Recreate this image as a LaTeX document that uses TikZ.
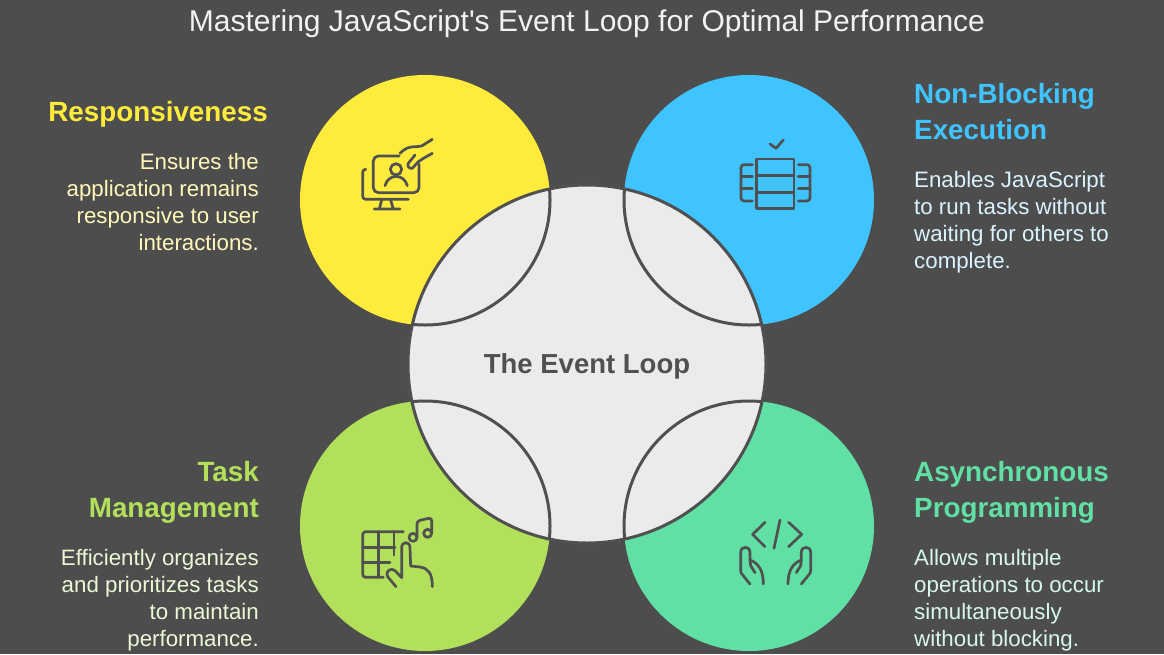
\documentclass[tikz,border=0pt]{standalone}
\usepackage{fontspec}
\setmainfont{Liberation Sans}
\definecolor{bgdark}{HTML}{4D4D4D}
\definecolor{lensgray}{HTML}{EBEBEB}
\definecolor{inkgray}{HTML}{505050}
\definecolor{respyellow}{HTML}{FFEB3B}
\definecolor{blockblue}{HTML}{40C4FF}
\definecolor{tasklime}{HTML}{B2E05A}
\definecolor{asyncgreen}{HTML}{60E0A5}
\tikzset{
  heading/.style={font=\bfseries\fontsize{27.8}{36}\selectfont,inner sep=0pt},
  bodytext/.style={font=\fontsize{22.3}{27}\selectfont,inner sep=0pt},
  icon/.style={line width=2.7pt,inkgray,line cap=round,line join=round,rounded corners=3pt},
  iconzoom/.style={shift={#1},x=0.3333pt,y=-0.3333pt}
}
\begin{document}
\begin{tikzpicture}[x=1pt,y=-1pt]
  \useasboundingbox (0,0) rectangle (1164,654);
  \fill[bgdark] (0,0) rectangle (1164,654);
  % four outer discs
  \fill[respyellow] (425,200) circle (125);
  \fill[blockblue] (749,200) circle (125);
  \fill[tasklime] (425,526) circle (125);
  \fill[asyncgreen] (749,526) circle (125);
  % centre disc with the lens lines
  \fill[lensgray] (587,364) circle (179);
  \begin{scope}
    \clip (587,364) circle (179);
    \draw[line width=3pt,inkgray] (425,200) circle (125);
    \draw[line width=3pt,inkgray] (749,200) circle (125);
    \draw[line width=3pt,inkgray] (425,526) circle (125);
    \draw[line width=3pt,inkgray] (749,526) circle (125);
  \end{scope}
  \draw[line width=3pt,inkgray] (587,364) circle (179);
  % texts
  \node[font=\fontsize{30}{34}\selectfont,text=white!95!black,inner sep=0pt] (title) at (587,24) {Mastering JavaScript\textquotesingle s Event Loop for Optimal Performance};
  \node[font=\bfseries\fontsize{27.5}{34}\selectfont,text=inkgray,inner sep=0pt] (centre) at (587,366) {The Event Loop};
  \node[heading,text=respyellow,anchor=east] (resphead) at (268,114) {Responsiveness};
  \node[bodytext,text=respyellow!35!white,anchor=north east,align=right] (respbody) at (259,153) {Ensures the\\application remains\\responsive to user\\interactions.};
  \node[heading,text=blockblue,anchor=north west,align=left] (blockhead) at (914,83) {Non-Blocking\\Execution};
  \node[bodytext,text=blockblue!20!white,anchor=north west,align=left] (blockbody) at (914,171) {Enables JavaScript\\to run tasks without\\waiting for others to\\complete.};
  \node[heading,text=tasklime,anchor=north east,align=right] (taskhead) at (259,461) {Task\\Management};
  \node[bodytext,text=tasklime!25!white,anchor=north east,align=right] (taskbody) at (259,549) {Efficiently organizes\\and prioritizes tasks\\to maintain\\performance.};
  \node[heading,text=asyncgreen,anchor=north west,align=left] (asynchead) at (914,461) {Asynchronous\\Programming};
  \node[bodytext,text=asyncgreen!25!white,anchor=north west,align=left] (asyncbody) at (914,549) {Allows multiple\\operations to occur\\simultaneously\\without blocking.};
  % monitor icon
  \begin{scope}[iconzoom={(340,120)}]
    \draw[icon,rounded corners=5pt] (178,108)--(100,108)--(100,218)--(237,218)--(237,132);
    \draw[icon] (168,148) circle (17);
    \draw[icon,rounded corners=0pt] (135,197) .. controls (145,160) and (192,160) .. (202,197);
    \draw[icon] (77,148)--(68,148)--(68,238)--(205,238);
    \draw[icon,rounded corners=0pt] (125,240)--(118,267) (152,240)--(160,267) (103,267)--(180,267);
    \draw[icon,rounded corners=0pt] (180,100) .. controls (195,85) and (205,80) .. (230,80)--(245,78)--(277,58);
    \draw[icon,rounded corners=0pt] (277,100)--(250,115)--(235,125)--(217,145) .. controls (208,147) and (200,137) .. (205,130)--(225,105);
  \end{scope}
  % table icon
  \begin{scope}[iconzoom={(720,125)}]
    \draw[icon,rounded corners=0pt] (150,57)--(168,70)--(190,45);
    \draw[icon,rounded corners=0pt] (110,102) rectangle (222,250);
    \draw[icon] (110,152)--(222,152) (110,202)--(222,202);
    \draw[icon] (97,119)--(63,119)--(63,228)--(97,228);
    \draw[icon] (63,155)--(97,155) (63,190)--(97,190);
    \draw[icon] (235,119)--(270,119)--(270,228)--(235,228);
    \draw[icon] (270,155)--(235,155) (270,190)--(235,190);
  \end{scope}
  % grid and note icon
  \begin{scope}[iconzoom={(340,505)}]
    \draw[icon] (190,80)--(68,80)--(68,217)--(130,217);
    \draw[icon] (68,127)--(165,127) (68,172)--(150,172) (115,80)--(115,217) (162,80)--(162,150);
    \draw[icon] (219,97) circle (12);
    \draw[icon] (263,85) circle (12);
    \draw[icon] (231,97)--(231,48)--(275,38)--(275,85);
    \draw[icon,rounded corners=0pt] (168,245)--(143,215) .. controls (135,195) and (155,188) .. (165,197)--(185,218)--(185,128) .. controls (185,108) and (210,108) .. (210,128)--(212,183)--(240,186) .. controls (265,190) and (277,205) .. (277,245);
  \end{scope}
  % code and hands icon
  \begin{scope}[iconzoom={(720,505)}]
    \draw[icon,rounded corners=0pt] (135,52)--(98,88)--(135,125);
    \draw[icon] (180,45)--(162,130);
    \draw[icon,rounded corners=0pt] (206,52)--(245,88)--(206,125);
    \draw[icon,rounded corners=0pt] (90,237)--(68,210) .. controls (64,205) and (62,203) .. (62,197)--(62,142) .. controls (62,122) and (90,122) .. (90,142)--(90,165) .. controls (115,175) and (130,195) .. (130,237);
    \draw[icon,rounded corners=0pt] (105,203)--(92,182)--(90,165);
    \draw[icon,rounded corners=0pt] (244,237)--(266,210) .. controls (270,205) and (272,203) .. (272,197)--(272,142) .. controls (272,122) and (244,122) .. (244,142)--(244,165) .. controls (219,175) and (204,195) .. (204,237);
    \draw[icon,rounded corners=0pt] (229,203)--(242,182)--(244,165);
  \end{scope}
\end{tikzpicture}
\end{document}
